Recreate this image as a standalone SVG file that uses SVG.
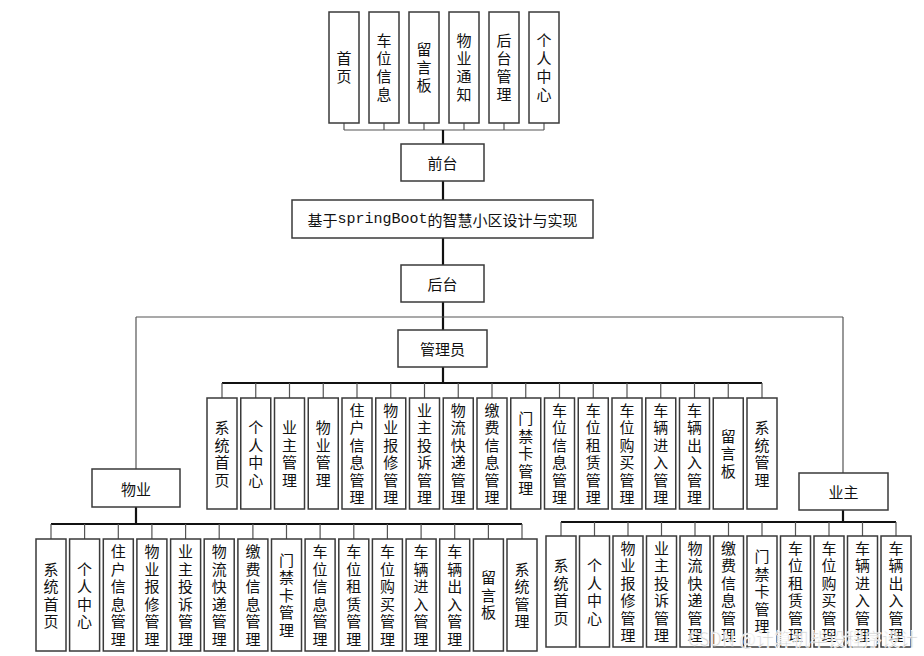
<svg xmlns="http://www.w3.org/2000/svg" width="924" height="656" viewBox="0 0 924 656">
<style>
.b{fill:#fff;stroke:#3a3a3a;stroke-width:1.5}
.t{font-family:"Noto Sans CJK SC","Noto Sans",sans-serif;font-size:15px;fill:#111;text-anchor:middle;dominant-baseline:central}
.v{font-family:"Noto Sans CJK SC","Noto Sans",sans-serif;font-size:15px;fill:#111;text-anchor:middle;writing-mode:vertical-rl;text-orientation:upright;letter-spacing:2.5px}
.v3{letter-spacing:3px}
.c{fill:none;stroke:#555;stroke-width:1.2}
.k{fill:none;stroke:#111;stroke-width:2.2}
</style>
<rect width="924" height="656" fill="#fff"/>
<g id="connectors">
<path class="c" d="M344,123V130M384,123V130M424,123V130M464,123V130M504,123V130M544,123V130M344,130H544"/>
<path class="k" d="M443,130V144M443,181V200M443,238V265M443,302V330"/>
<path class="c" d="M136,317H843M136,317V469M843,317V473"/>
<path class="k" d="M443,367V383M222,383H762"/>
<path class="c" d="M222,383V398M255.75,383V398M289.5,383V398M323.25,383V398M357,383V398M390.75,383V398M424.5,383V398M458.25,383V398M492,383V398M525.75,383V398M559.5,383V398M593.25,383V398M627,383V398M660.75,383V398M694.5,383V398M728.25,383V398M762,383V398"/>
<path class="k" d="M136,507V524M51,524H522"/>
<path class="c" d="M51,524V539M84.6,524V539M118.3,524V539M151.9,524V539M185.6,524V539M219.2,524V539M252.9,524V539M286.5,524V539M320.1,524V539M353.8,524V539M387.4,524V539M421.1,524V539M454.7,524V539M488.4,524V539M522,524V539"/>
<path class="k" d="M843,510V522M561,522H896"/>
<path class="c" d="M561,522V536M594.5,522V536M628,522V536M661.5,522V536M695,522V536M728.5,522V536M762,522V536M795.5,522V536M829,522V536M862.5,522V536M896,522V536"/>
</g>
<g id="f1"><rect class="b" x="329" y="12" width="30" height="111"/><text class="v v3" x="344" y="69">首页</text></g>
<g id="f2"><rect class="b" x="369" y="12" width="30" height="111"/><text class="v v3" x="384" y="69">车位信息</text></g>
<g id="f3"><rect class="b" x="409" y="12" width="30" height="111"/><text class="v v3" x="424" y="69">留言板</text></g>
<g id="f4"><rect class="b" x="449" y="12" width="30" height="111"/><text class="v v3" x="464" y="69">物业通知</text></g>
<g id="f5"><rect class="b" x="489" y="12" width="30" height="111"/><text class="v v3" x="504" y="69">后台管理</text></g>
<g id="f6"><rect class="b" x="529" y="12" width="30" height="111"/><text class="v v3" x="544" y="69">个人中心</text></g>
<g id="qiantai"><rect class="b" x="401" y="144" width="83" height="37"/><text class="t" x="442.5" y="162.5">前台</text></g>
<g id="title"><rect class="b" x="292" y="200" width="301" height="38"/><text class="t" x="442.5" y="219" font-size="16">基于<tspan font-family="'Liberation Mono',monospace">springBoot</tspan>的智慧小区设计与实现</text></g>
<g id="houtai"><rect class="b" x="401" y="265" width="83" height="37"/><text class="t" x="442.5" y="283.5">后台</text></g>
<g id="admin"><rect class="b" x="398" y="330" width="89" height="37"/><text class="t" x="442.5" y="348.5">管理员</text></g>
<g id="wuye"><rect class="b" x="92" y="469" width="88" height="38"/><text class="t" x="136" y="488">物业</text></g>
<g id="yezhu"><rect class="b" x="799" y="473" width="89" height="37"/><text class="t" x="843.5" y="491.5">业主</text></g>
<g id="a1"><rect class="b" x="207" y="398" width="30" height="111"/><text class="v" x="222" y="455">系统首页</text></g>
<g id="a2"><rect class="b" x="240.75" y="398" width="30" height="111"/><text class="v" x="255.75" y="455">个人中心</text></g>
<g id="a3"><rect class="b" x="274.5" y="398" width="30" height="111"/><text class="v" x="289.5" y="455">业主管理</text></g>
<g id="a4"><rect class="b" x="308.25" y="398" width="30" height="111"/><text class="v" x="323.25" y="455">物业管理</text></g>
<g id="a5"><rect class="b" x="342" y="398" width="30" height="111"/><text class="v" x="357" y="455">住户信息管理</text></g>
<g id="a6"><rect class="b" x="375.75" y="398" width="30" height="111"/><text class="v" x="390.75" y="455">物业报修管理</text></g>
<g id="a7"><rect class="b" x="409.5" y="398" width="30" height="111"/><text class="v" x="424.5" y="455">业主投诉管理</text></g>
<g id="a8"><rect class="b" x="443.25" y="398" width="30" height="111"/><text class="v" x="458.25" y="455">物流快递管理</text></g>
<g id="a9"><rect class="b" x="477" y="398" width="30" height="111"/><text class="v" x="492" y="455">缴费信息管理</text></g>
<g id="a10"><rect class="b" x="510.75" y="398" width="30" height="111"/><text class="v" x="525.75" y="455">门禁卡管理</text></g>
<g id="a11"><rect class="b" x="544.5" y="398" width="30" height="111"/><text class="v" x="559.5" y="455">车位信息管理</text></g>
<g id="a12"><rect class="b" x="578.25" y="398" width="30" height="111"/><text class="v" x="593.25" y="455">车位租赁管理</text></g>
<g id="a13"><rect class="b" x="612" y="398" width="30" height="111"/><text class="v" x="627" y="455">车位购买管理</text></g>
<g id="a14"><rect class="b" x="645.75" y="398" width="30" height="111"/><text class="v" x="660.75" y="455">车辆进入管理</text></g>
<g id="a15"><rect class="b" x="679.5" y="398" width="30" height="111"/><text class="v" x="694.5" y="455">车辆出入管理</text></g>
<g id="a16"><rect class="b" x="713.25" y="398" width="30" height="111"/><text class="v" x="728.25" y="455">留言板</text></g>
<g id="a17"><rect class="b" x="747" y="398" width="30" height="111"/><text class="v" x="762" y="455">系统管理</text></g>
<g id="w1"><rect class="b" x="36" y="539" width="30" height="112"/><text class="v" x="51" y="596.5">系统首页</text></g>
<g id="w2"><rect class="b" x="69.6" y="539" width="30" height="112"/><text class="v" x="84.6" y="596.5">个人中心</text></g>
<g id="w3"><rect class="b" x="103.3" y="539" width="30" height="112"/><text class="v" x="118.3" y="596.5">住户信息管理</text></g>
<g id="w4"><rect class="b" x="136.9" y="539" width="30" height="112"/><text class="v" x="151.9" y="596.5">物业报修管理</text></g>
<g id="w5"><rect class="b" x="170.6" y="539" width="30" height="112"/><text class="v" x="185.6" y="596.5">业主投诉管理</text></g>
<g id="w6"><rect class="b" x="204.2" y="539" width="30" height="112"/><text class="v" x="219.2" y="596.5">物流快递管理</text></g>
<g id="w7"><rect class="b" x="237.9" y="539" width="30" height="112"/><text class="v" x="252.9" y="596.5">缴费信息管理</text></g>
<g id="w8"><rect class="b" x="271.5" y="539" width="30" height="112"/><text class="v" x="286.5" y="596.5">门禁卡管理</text></g>
<g id="w9"><rect class="b" x="305.1" y="539" width="30" height="112"/><text class="v" x="320.1" y="596.5">车位信息管理</text></g>
<g id="w10"><rect class="b" x="338.8" y="539" width="30" height="112"/><text class="v" x="353.8" y="596.5">车位租赁管理</text></g>
<g id="w11"><rect class="b" x="372.4" y="539" width="30" height="112"/><text class="v" x="387.4" y="596.5">车位购买管理</text></g>
<g id="w12"><rect class="b" x="406.1" y="539" width="30" height="112"/><text class="v" x="421.1" y="596.5">车辆进入管理</text></g>
<g id="w13"><rect class="b" x="439.7" y="539" width="30" height="112"/><text class="v" x="454.7" y="596.5">车辆出入管理</text></g>
<g id="w14"><rect class="b" x="473.4" y="539" width="30" height="112"/><text class="v" x="488.4" y="596.5">留言板</text></g>
<g id="w15"><rect class="b" x="507" y="539" width="30" height="112"/><text class="v" x="522" y="596.5">系统管理</text></g>
<g id="y1"><rect class="b" x="546" y="536" width="30" height="111"/><text class="v" x="561" y="593">系统首页</text></g>
<g id="y2"><rect class="b" x="579.5" y="536" width="30" height="111"/><text class="v" x="594.5" y="593">个人中心</text></g>
<g id="y3"><rect class="b" x="613" y="536" width="30" height="111"/><text class="v" x="628" y="593">物业报修管理</text></g>
<g id="y4"><rect class="b" x="646.5" y="536" width="30" height="111"/><text class="v" x="661.5" y="593">业主投诉管理</text></g>
<g id="y5"><rect class="b" x="680" y="536" width="30" height="111"/><text class="v" x="695" y="593">物流快递管理</text></g>
<g id="y6"><rect class="b" x="713.5" y="536" width="30" height="111"/><text class="v" x="728.5" y="593">缴费信息管理</text></g>
<g id="y7"><rect class="b" x="747" y="536" width="30" height="111"/><text class="v" x="762" y="593">门禁卡管理</text></g>
<g id="y8"><rect class="b" x="780.5" y="536" width="30" height="111"/><text class="v" x="795.5" y="593">车位租赁管理</text></g>
<g id="y9"><rect class="b" x="814" y="536" width="30" height="111"/><text class="v" x="829" y="593">车位购买管理</text></g>
<g id="y10"><rect class="b" x="847.5" y="536" width="30" height="111"/><text class="v" x="862.5" y="593">车辆进入管理</text></g>
<g id="y11"><rect class="b" x="881" y="536" width="30" height="111"/><text class="v" x="896" y="593">车辆出入管理</text></g>
<text x="918" y="638" font-family="'Noto Sans CJK SC','Noto Sans',sans-serif" font-size="18" fill="#c8c8c8" fill-opacity="0.85" stroke="#fff" stroke-width="0.6" text-anchor="end" dominant-baseline="central">CSDN @计算机毕设程序设计</text>
</svg>
